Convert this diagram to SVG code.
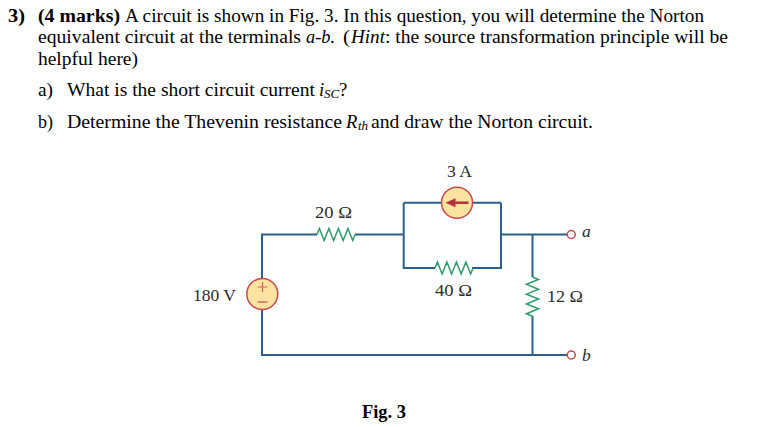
<svg xmlns="http://www.w3.org/2000/svg" width="761" height="427" viewBox="0 0 761 427">
<style>
text{font-family:"Liberation Serif","DejaVu Serif",serif;fill:#1a1a1a}
.q{font-size:18.5px;fill:#000}
.b{font-weight:bold}
.i{font-style:italic}
.l{font-size:17.500px;fill:#2b2b2b}
.w{fill:none;stroke:#2a5f8f;stroke-width:2}
.r{fill:none;stroke:#2e9b6b;stroke-width:1.500}
.s{fill:#fde3a0;stroke:#c8484f;stroke-width:1.500}
.t{fill:#fff;stroke:#c8484f;stroke-width:1.500}
</style>
<defs>
<path id="zig" class="r" d="M0 0l2.400-6 4.750 12 4.750-12 4.750 12 4.750-12 4.750 12 4.750-12 4.750 12 2.400-6"/>
</defs>
<g id="question">
<text class="q b" x="8" y="22" textLength="17" lengthAdjust="spacingAndGlyphs">3)</text>
<text class="q b" x="38" y="22" textLength="82" lengthAdjust="spacingAndGlyphs">(4 marks)</text>
<text class="q" x="125" y="22" textLength="579" lengthAdjust="spacingAndGlyphs">A circuit is shown in Fig. 3. In this question, you will determine the Norton</text>
<text class="q" x="38" y="43" textLength="263" lengthAdjust="spacingAndGlyphs">equivalent circuit at the terminals</text>
<text class="q i" x="306" y="43" textLength="29" lengthAdjust="spacingAndGlyphs">a-b.</text>
<text class="q" x="343" y="43" textLength="7" lengthAdjust="spacingAndGlyphs">(</text>
<text class="q i" x="351" y="43" textLength="34" lengthAdjust="spacingAndGlyphs">Hint</text>
<text class="q" x="385" y="43" textLength="343" lengthAdjust="spacingAndGlyphs">: the source transformation principle will be</text>
<text class="q" x="38" y="65" textLength="100" lengthAdjust="spacingAndGlyphs">helpful here)</text>
<text class="q" x="38" y="96" textLength="15" lengthAdjust="spacingAndGlyphs">a)</text>
<text class="q" x="67" y="96" textLength="248" lengthAdjust="spacingAndGlyphs">What is the short circuit current</text>
<text class="q i" x="319" y="96">i</text>
<text class="q i" x="324" y="98" style="font-size:13px">SC</text>
<text class="q" x="339" y="96">?</text>
<text class="q" x="38" y="128" textLength="15" lengthAdjust="spacingAndGlyphs">b)</text>
<text class="q" x="67" y="128" textLength="275" lengthAdjust="spacingAndGlyphs">Determine the Thevenin resistance</text>
<text class="q i" x="346" y="128">R</text>
<text class="q i" x="358" y="130" style="font-size:13px">th</text>
<text class="q" x="371" y="128" textLength="222" lengthAdjust="spacingAndGlyphs">and draw the Norton circuit.</text>
</g>
<g id="connectors">
<path class="w" d="M262 278V234.500H317M355 234.500H403.700M403.700 202.700V268H435M472 268H501V202.700M403.700 202.700H442M472.500 202.700H501M501 234.500H567M532.500 234.500V277M532.500 316V355M262 310V355H567"/>
</g>
<g id="source-180v">
<circle class="s" cx="262.300" cy="294" r="15.500"/>
<path d="M257.500 287h10M262.500 282v10" fill="none" stroke="#d9605a" stroke-width="1.200"/>
<path d="M257.500 302h10" fill="none" stroke="#c8484f" stroke-width="1.200"/>
<text class="l" x="193" y="301" textLength="43" lengthAdjust="spacingAndGlyphs">180 V</text>
</g>
<g id="resistor-20">
<use href="#zig" transform="translate(317 234.500)"/>
<text class="l" x="315" y="218" textLength="37" lengthAdjust="spacingAndGlyphs">20 Ω</text>
</g>
<g id="source-3a">
<circle class="s" cx="457" cy="202.700" r="15.500"/>
<path d="M468.500 202.700H454" fill="none" stroke="#b5303a" stroke-width="2.500"/>
<path d="M445.500 202.700l10-4.500v9z" fill="#b5303a"/>
<text class="l" x="447" y="177" textLength="25" lengthAdjust="spacingAndGlyphs">3 A</text>
</g>
<g id="resistor-40">
<use href="#zig" transform="translate(435 268)"/>
<text class="l" x="435" y="296" textLength="37" lengthAdjust="spacingAndGlyphs">40 Ω</text>
</g>
<g id="resistor-12">
<use href="#zig" transform="translate(532.500 277) rotate(90) scale(1.030 1)"/>
<text class="l" x="547" y="302" textLength="36" lengthAdjust="spacingAndGlyphs">12 Ω</text>
</g>
<g id="terminal-a">
<circle class="t" cx="571.300" cy="234.500" r="4"/>
<text class="l i" x="582" y="237">a</text>
</g>
<g id="terminal-b">
<circle class="t" cx="571.300" cy="355" r="4"/>
<text class="l i" x="582" y="361">b</text>
</g>
<text class="q b" x="362" y="418" textLength="44" lengthAdjust="spacingAndGlyphs">Fig. 3</text>
</svg>
